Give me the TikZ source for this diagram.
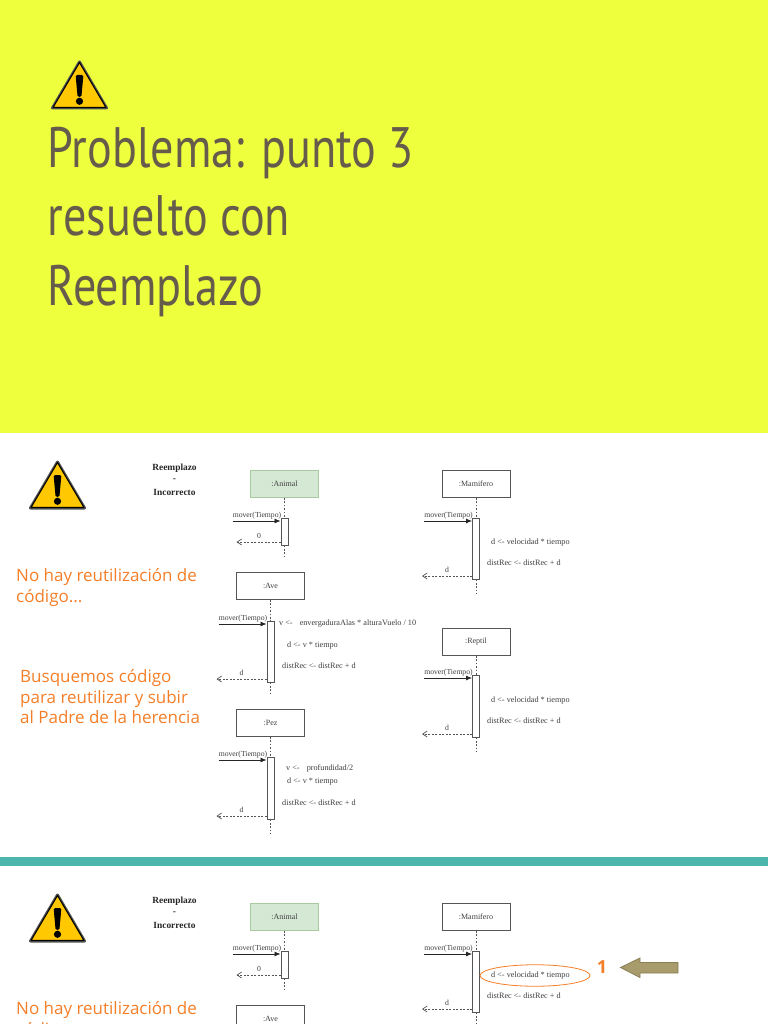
\documentclass[tikz,border=0pt]{standalone}
\usepackage{fontspec}
\setmainfont{Liberation Serif}
\newfontfamily\titlef[FakeStretch=0.81]{PT Sans}
\newfontfamily\bodyf{Open Sans}
\usetikzlibrary{arrows.meta,calc,shapes.geometric}
\definecolor{bgyellow}{HTML}{EEFF3D}
\definecolor{titlec}{HTML}{665C4C}
\definecolor{teal}{HTML}{4DB6AC}
\definecolor{orangec}{HTML}{F57F29}
\definecolor{umlline}{HTML}{555555}
\definecolor{animalfill}{HTML}{D5E8D4}
\definecolor{animaldraw}{HTML}{A9C9A0}
\definecolor{warnfill}{HTML}{FFC800}
\definecolor{arrowfill}{HTML}{A89B6C}
\definecolor{arrowdraw}{HTML}{8A7F55}
\tikzset{
  x=1pt,y=-1pt,
  titletext/.style={anchor=base west,inner sep=0,text=titlec,font=\titlef\fontsize{57}{57}\selectfont},
  bodytext/.style={anchor=base west,inner sep=0,text=orangec,font=\bodyf\fontsize{17}{17}\selectfont},
  umltext/.style={anchor=west,inner sep=0,text=black!75,font=\fontsize{8.2}{8.2}\selectfont},
  umllabel/.style={inner sep=0,text=black!75,font=\fontsize{7.7}{7.7}\selectfont},
  headtext/.style={inner sep=0,text=black!85,font=\bfseries\fontsize{9.4}{9.4}\selectfont},
  objbox/.style={draw=umlline,line width=0.9pt,minimum width=68pt,minimum height=27.5pt,inner sep=0,text=black!75,font=\fontsize{8}{8}\selectfont,fill=white},
  greenbox/.style={objbox,draw=animaldraw,fill=animalfill},
  actbar/.style={draw=umlline,line width=0.9pt,fill=white,minimum width=7pt,inner sep=0},
  lifeline/.style={draw=umlline,line width=0.7pt,dash pattern=on 1.7pt off 1.7pt},
  callarrow/.style={draw=black!85,line width=0.8pt,-{Latex[length=6pt,width=5pt]}},
  retarrow/.style={draw=umlline,line width=0.7pt,dash pattern=on 2pt off 1.5pt,-{Straight Barb[length=4.5pt,width=6pt]}},
}
\def\seqretshift{0}
\def\seqlabshift{0}
% name, box left, box top, label, box style, act top, act bottom, life bottom, return label
\newcommand{\seqobj}[9]{
  \node[#5] (#1box) at ({#2+34},{#3+13.75}) {#4};
  \node[actbar,minimum height={#7-#6}] (#1act) at ({#2+34},{(#6+#7)/2}) {};
  \coordinate (#1end) at ({#2+34},#8);
  \draw[lifeline] (#1box.south) -- (#1act.north);
  \draw[lifeline] (#1act.south) -- (#1end);
  \coordinate (#1in) at ({#2-18},{#6+3});
  \coordinate (#1out) at ({#2-20+\seqretshift},{#7-3});
  \draw[callarrow] (#1in) -- (#1in -| #1act.west);
  \draw[retarrow] (#1out -| #1act.west) -- (#1out);
  \node[umllabel] (#1call) at ({#2+6.5},{#6-3+0.5}) {mover(Tiempo)};
  \node[umllabel] (#1ret) at ({#2+5+\seqlabshift},{#7-9.5}) {#9};
}
\newcommand{\warnicon}[3]{
  \begin{scope}[shift={(#2,#3)}]
    \filldraw[draw=umlline,fill=umlline,line width=3pt,line join=round] (28.5,2) -- (1.5,48) -- (55.5,48) -- cycle;
    \filldraw[draw=black,fill=warnfill,line width=1.1pt,line join=round] (28.5,2.5) -- (2,47.5) -- (55,47.5) -- cycle;
    \fill[black,rounded corners=1.5pt] (24.6,15) -- (32.4,15) -- (30.4,37) -- (26.6,37) -- cycle;
    \fill[black] (28.5,41.3) circle (3.6);
  \end{scope}
}
\newcommand{\slide}[2]{
  \begin{scope}[yshift=#2*-1pt]
    \warnicon{#1w}{29}{460}
    \node[headtext] (#1h1) at (174.5,468) {Reemplazo};
    \node[headtext] (#1h2) at (174.5,480) {-};
    \node[headtext] (#1h3) at (174.5,492) {Incorrecto};
    \node[bodytext] (#1b1) at (16,581.5) {No hay reutilización de};
    \node[bodytext] (#1b2) at (16,602.5) {código...};
    \def\seqretshift{6}\def\seqlabshift{3.5}
    \seqobj{#1an}{250.5}{470}{:Animal}{greenbox}{518}{545}{557}{0}
    \def\seqretshift{0}\def\seqlabshift{0}
    \seqobj{#1av}{236.5}{572}{:Ave}{objbox}{621}{682}{696}{d}
    \node[umltext] (#1a1) at (279,624) {v <-\hspace{5pt} envergaduraAlas * alturaVuelo / 10};
    \node[umltext] (#1a2) at (287,645.5) {d <- v * tiempo};
    \node[umltext] (#1a3) at (282,666) {distRec <- distRec + d};
    \seqobj{#1ma}{442}{470}{:Mamifero}{objbox}{518}{579}{594}{d}
    \node[umltext] (#1m2) at (487,563) {distRec <- distRec + d};
  \end{scope}
}
\begin{document}
\begin{tikzpicture}
\useasboundingbox (0,0) rectangle (768,1024);
\clip (0,0) rectangle (768,1024);
\fill[white] (0,0) rectangle (768,1024);
\fill[bgyellow] (0,0) rectangle (768,433);
\fill[teal] (0,857) rectangle (768,866);
% title
\warnicon{tw}{51}{60}
\node[titletext] (t1) at (47.5,168) {Problema: punto 3};
\node[titletext] (t2) at (47.5,236) {resuelto con};
\node[titletext] (t3) at (47.5,305) {Reemplazo};
% first slide
\slide{p}{0}
\node[umltext] (pm1) at (491,542.5) {d <- velocidad * tiempo};
\node[bodytext] (b3) at (20,682.5) {Busquemos código};
\node[bodytext] (b4) at (20,703) {para reutilizar y subir};
\node[bodytext] (b5) at (20,723.5) {al Padre de la herencia};
\seqobj{re}{442}{628}{:Reptil}{objbox}{675}{737}{752}{d}
\node[umltext] (r1) at (491,700.5) {d <- velocidad * tiempo};
\node[umltext] (r2) at (487,721) {distRec <- distRec + d};
\seqobj{pz}{236.5}{709}{:Pez}{objbox}{757}{819}{834}{d}
\node[umltext] (z1) at (286,768) {v <-\hspace{5pt} profundidad/2};
\node[umltext] (z2) at (287,782) {d <- v * tiempo};
\node[umltext] (z3) at (282,803) {distRec <- distRec + d};
% second slide
\slide{q}{433}
\node[umltext] (qm1) at (491,975.5) {d <- velocidad * tiempo};
\node[draw=orangec,line width=0.8pt,ellipse,minimum width=110pt,minimum height=21.5pt,inner sep=0] (qe) at (535,975.5) {};
\node[inner sep=0,text=orangec,font=\bodyf\bfseries\fontsize{18}{18}\selectfont] (qn) at (602,967.5) {1};
\filldraw[draw=arrowdraw,fill=arrowfill,line width=0.8pt,line join=miter] (678,962.5) -- (640,962.5) -- (640,958) -- (620.5,967.5) -- (640,977.5) -- (640,973) -- (678,973) -- cycle;
\end{tikzpicture}
\end{document}
